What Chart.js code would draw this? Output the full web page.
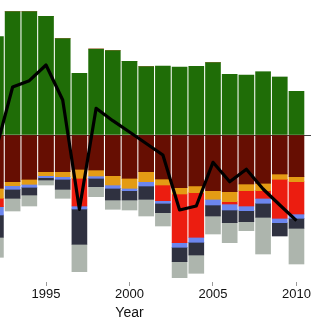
<!DOCTYPE html>
<html>
<head>
<meta charset="utf-8">
<script src="https://cdn.jsdelivr.net/npm/chart.js@4.4.0/dist/chart.umd.min.js"></script>
<style>
  html, body { margin: 0; padding: 0; background: #fff; overflow: hidden; }
  #wrap { position: absolute; left: -52px; top: 0; width: 372px; height: 320px; }
</style>
</head>
<body>
<div id="wrap"><canvas id="chart" width="372" height="320"></canvas></div>
<script>
// ── DATA (arbitrary units) ────────────────────────────────────────────
const years = [1992, 1993, 1994, 1995, 1996, 1997, 1998, 1999, 2000, 2001,
               2002, 2003, 2004, 2005, 2006, 2007, 2008, 2009, 2010];
const tickYears = [1995, 2000, 2005, 2010];

const sink   = [98.3, 123.3, 123.3, 118.7, 96.3, 61.7, 86, 84.3, 73.7, 68.3,
                69, 68, 68.7, 72.3, 60.7, 60, 63.3, 58, 43.7];
const maroon = [53.3, 46.7, 44.3, 36.7, 36.7, 34.3, 35, 40.7, 43.3, 36.7,
                44, 52.7, 51, 55.7, 56.7, 49, 48.3, 39, 41.7];
const orange = [10, 4, 5, 4, 5, 9, 6, 9.3, 10, 10,
                6, 6.3, 6.7, 8.6, 10, 6.7, 7.4, 5.3, 5];
const red    = [8.4, 0, 0, 0, 0, 27.7, 0, 0, 0, 0,
                15.7, 48.7, 44.6, 0, 2.3, 15.3, 7.6, 39, 32.3];
const blue   = [8.3, 3.6, 3, 2, 2.6, 3, 2.3, 3.3, 2.4, 4.3,
                2.6, 4.6, 5, 5.7, 6, 4.7, 5, 4.4, 4.3];
const dark   = [22.3, 9, 7.7, 2.3, 10, 35.3, 8.4, 11.7, 9.3, 13.3,
                9.4, 14.4, 12.7, 11, 12.7, 11, 14, 13.3, 10];
const grey   = [20, 12.7, 11, 5, 9, 27.4, 10, 9.3, 10, 16.7,
                13.3, 16, 18.3, 18, 20, 9, 36.7, 0, 35.7];
const net    = [-15, 48, 54.3, 70, 35, -74.3, 26.7, 14.3, 3, -8.5,
                -20, -75, -71, -27.3, -46.7, -34.3, -54, -70, -85.7];

const Y_MIN = -147, Y_MAX = 135;
const FONT = "'Liberation Sans', Arial, sans-serif";

function pts(arr, sign) {
  return arr.map((v, i) => ({ x: years[i], y: sign * v }));
}

function barSet(label, arr, sign, color) {
  return {
    type: 'bar',
    label: label,
    data: pts(arr, sign),
    backgroundColor: color,
    borderWidth: 0,
    barThickness: 15,
    order: 1
  };
}

new Chart(document.getElementById('chart'), {
  data: {
    datasets: [
      { type: 'line', label: 'Net', data: pts(net, 1), yAxisID: 'y2',
        borderColor: '#000', borderWidth: 3.2, borderJoinStyle: 'round',
        pointRadius: 0, tension: 0, order: 0 },
      barSet('Sink', sink, 1, '#1f6d07'),
      barSet('A', maroon, -1, '#660e02'),
      barSet('B', orange, -1, '#e49b14'),
      barSet('C', red, -1, '#ec1d10'),
      barSet('D', blue, -1, '#6c86ee'),
      barSet('E', dark, -1, '#2f3140'),
      barSet('F', grey, -1, '#adb5ad')
    ]
  },
  options: {
    responsive: false,
    animation: false,
    devicePixelRatio: 1,
    layout: { padding: { left: 0, right: 9, top: 0, bottom: 0 } },
    plugins: { legend: { display: false }, tooltip: { enabled: false } },
    scales: {
      x: {
        type: 'linear',
        stacked: true,
        offset: false,
        min: 1989.13,
        max: 2010.87,
        afterBuildTicks: s => { s.ticks = tickYears.map(v => ({ value: v })); },
        afterFit: s => { s.height = 38; },
        ticks: {
          callback: v => String(v),
          color: '#111',
          padding: 1,
          maxRotation: 0,
          font: { family: FONT, size: 13, lineHeight: 1.1 }
        },
        grid: { offset: false, drawOnChartArea: false, drawTicks: true, tickLength: 4, color: '#999' },
        border: { display: false },
        title: {
          display: true,
          text: 'Year',
          color: '#111',
          padding: 0,
          font: { family: FONT, size: 14, lineHeight: 1.0 }
        }
      },
      y: {
        stacked: true,
        min: Y_MIN,
        max: Y_MAX,
        afterFit: s => { s.width = 0; },
        ticks: { display: false },
        grid: { drawTicks: false, color: c => c.tick.value === 0 ? '#444' : 'transparent' },
        border: { display: false }
      },
      y2: {
        display: false,
        min: Y_MIN,
        max: Y_MAX
      }
    }
  }
});
</script>
</body>
</html>
